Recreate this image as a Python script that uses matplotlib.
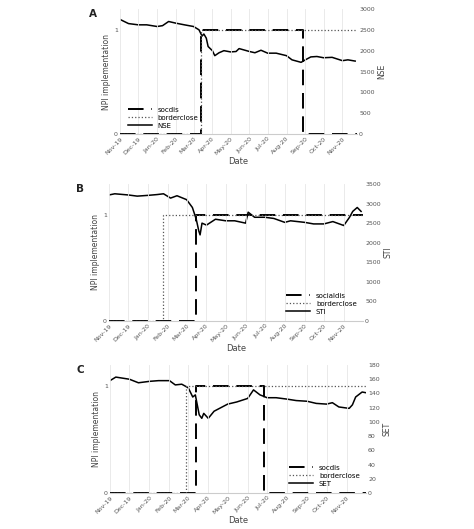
import numpy as np
import pandas as pd
import matplotlib.pyplot as plt
import matplotlib.dates as mdates

# --- data ---
nse_dates = ['2019-11-01','2019-11-15','2019-12-01','2019-12-15','2020-01-01','2020-01-10','2020-01-20',
             '2020-02-01','2020-02-15','2020-03-01','2020-03-10','2020-03-15','2020-03-18','2020-03-22',
             '2020-03-25','2020-04-01','2020-04-05','2020-04-12','2020-04-20','2020-05-01','2020-05-10',
             '2020-05-15','2020-06-01','2020-06-10','2020-06-20','2020-07-01','2020-07-15','2020-08-01',
             '2020-08-10','2020-08-25','2020-09-01','2020-09-10','2020-09-20','2020-10-01','2020-10-15',
             '2020-11-01','2020-11-10','2020-11-22']
nse = [2750, 2650, 2620, 2620, 2580, 2600, 2700, 2660, 2620, 2580, 2500, 2350, 2400, 2300, 2100, 2000,
       1880, 1950, 2000, 1970, 1980, 2050, 1980, 1950, 2010, 1940, 1940, 1880, 1780, 1720, 1780, 1850,
       1860, 1830, 1840, 1760, 1780, 1750]

sti_dates = ['2019-11-01','2019-11-10','2019-12-01','2019-12-15','2020-01-01','2020-01-15','2020-01-25',
             '2020-02-05','2020-02-15','2020-03-01','2020-03-10','2020-03-16','2020-03-20','2020-03-22',
             '2020-03-25','2020-04-01','2020-04-15','2020-05-01','2020-05-15','2020-06-01','2020-06-05',
             '2020-06-15','2020-07-01','2020-07-15','2020-08-01','2020-08-10','2020-09-01','2020-09-15',
             '2020-10-01','2020-10-15','2020-11-01','2020-11-10','2020-11-15','2020-11-22','2020-11-28']
sti = [3220, 3250, 3220, 3190, 3210, 3230, 3250, 3140, 3200, 3100, 2900, 2600, 2300, 2200, 2500, 2450,
       2600, 2560, 2560, 2500, 2780, 2650, 2650, 2620, 2520, 2560, 2520, 2480, 2480, 2540, 2440, 2650,
       2800, 2900, 2800]

set_dates = ['2019-11-01','2019-11-10','2019-12-01','2019-12-15','2020-01-01','2020-01-15','2020-02-01',
             '2020-02-10','2020-02-20','2020-03-01','2020-03-08','2020-03-12','2020-03-18','2020-03-22',
             '2020-03-25','2020-04-01','2020-04-10','2020-05-01','2020-05-15','2020-06-01','2020-06-10',
             '2020-06-20','2020-07-01','2020-07-15','2020-08-01','2020-08-15','2020-09-01','2020-09-15',
             '2020-10-01','2020-10-10','2020-10-20','2020-11-05','2020-11-10','2020-11-15','2020-11-25',
             '2020-12-01']
set_idx = [158, 163, 160, 155, 157, 158, 158, 152, 153, 148, 135, 138, 110, 105, 112, 105, 115, 125, 128,
           133, 145, 138, 134, 134, 132, 130, 129, 126, 125, 127, 121, 119, 124, 135, 142, 141]

# NPI step dates: (on, off) ; None = stays on
socdis_A = ('2020-03-13', '2020-08-28')
border_A = ('2020-03-13', None)
socdis_B = ('2020-03-16', None)
border_B = ('2020-01-24', None)
socdis_C = ('2020-03-13', '2020-06-26')
border_C = ('2020-02-27', None)

start, end_A, end_BC = '2019-11-01', '2020-11-25', '2020-12-01'
month_ticks = pd.date_range('2019-11-01', '2020-11-01', freq='MS')


def step(on, off, end):
    d = [pd.Timestamp(start), pd.Timestamp(on), pd.Timestamp(on)]
    v = [0, 0, 1]
    if off:
        d += [pd.Timestamp(off), pd.Timestamp(off)]
        v += [1, 0]
    d.append(pd.Timestamp(end))
    v.append(v[-1])
    return d, v


def panel(ax, letter, dates, vals, name, sname, soc, bor, end, rmax, rticks, lmax, legloc):
    ax.set_zorder(2)
    ax.patch.set_visible(False)
    ax2 = ax.twinx()
    ax2.set_zorder(1)
    ax2.plot(pd.to_datetime(dates), vals, color='black', lw=1.1)
    ax2.set_ylim(0, rmax)
    ax2.set_yticks(rticks)
    ax2.set_ylabel(name, fontsize=5.5, color='#444444', labelpad=2)
    d, v = step(*soc, end)
    l1, = ax.plot(d, v, color='black', lw=1.4, ls=(0, (8, 4)), label=sname)
    d, v = step(*bor, end)
    l2, = ax.plot(d, v, color='#555555', lw=0.9, ls=':', label='borderclose')
    l3, = ax.plot([], [], color='black', lw=1.1, label=name)
    ax.set_ylim(0, lmax)
    ax.set_yticks([0, 1])
    ax.set_xlim(pd.Timestamp(start), pd.Timestamp(end))
    ax.set_xticks(month_ticks)
    ax.xaxis.set_major_formatter(mdates.DateFormatter('%b-%y'))
    ax2.grid(False)
    ax.grid(axis='x', color='#e6e6e6', lw=0.6)
    for a in (ax, ax2):
        for s in a.spines.values():
            s.set_visible(False)
        a.tick_params(labelsize=4.5, colors='#555555', length=0, pad=1.5)
    ax.spines['bottom'].set_visible(True)
    ax.spines['bottom'].set_color('#cccccc')
    plt.setp(ax.get_xticklabels(), rotation=45, ha='right', rotation_mode='anchor')
    ax.set_ylabel('NPI implementation', fontsize=5.5, color='#444444', labelpad=2)
    ax.set_xlabel('Date', fontsize=6, color='#444444', labelpad=1)
    ax.legend(handles=[l1, l2, l3], loc=legloc, fontsize=5, frameon=False,
              handlelength=3.5, labelspacing=0.3)
    ax.text(-0.13, 1.0, letter, transform=ax.transAxes, fontsize=7.5, fontweight='bold',
            va='top', color='#222222')


fig = plt.figure(figsize=(4.74, 5.29), dpi=100)
axA = fig.add_axes([120/474, 1-134/529, 237/474, 125/529])
axB = fig.add_axes([109/474, 1-321/529, 254/474, 137/529])
axC = fig.add_axes([110/474, 1-493/529, 256/474, 128/529])

panel(axA, 'A', nse_dates, nse, 'NSE', 'socdis', socdis_A, border_A, end_A,
      3000, range(0, 3001, 500), 1.2, (0.02, 0.02))
panel(axB, 'B', sti_dates, sti, 'STI', 'socialdis', socdis_B, border_B, end_BC,
      3500, range(0, 3501, 500), 3500/2700, 'lower right')
panel(axC, 'C', set_dates, set_idx, 'SET', 'socdis', socdis_C, border_C, end_BC,
      180, range(0, 181, 20), 1.2, 'lower right')

fig.savefig('out.png', dpi=100)
